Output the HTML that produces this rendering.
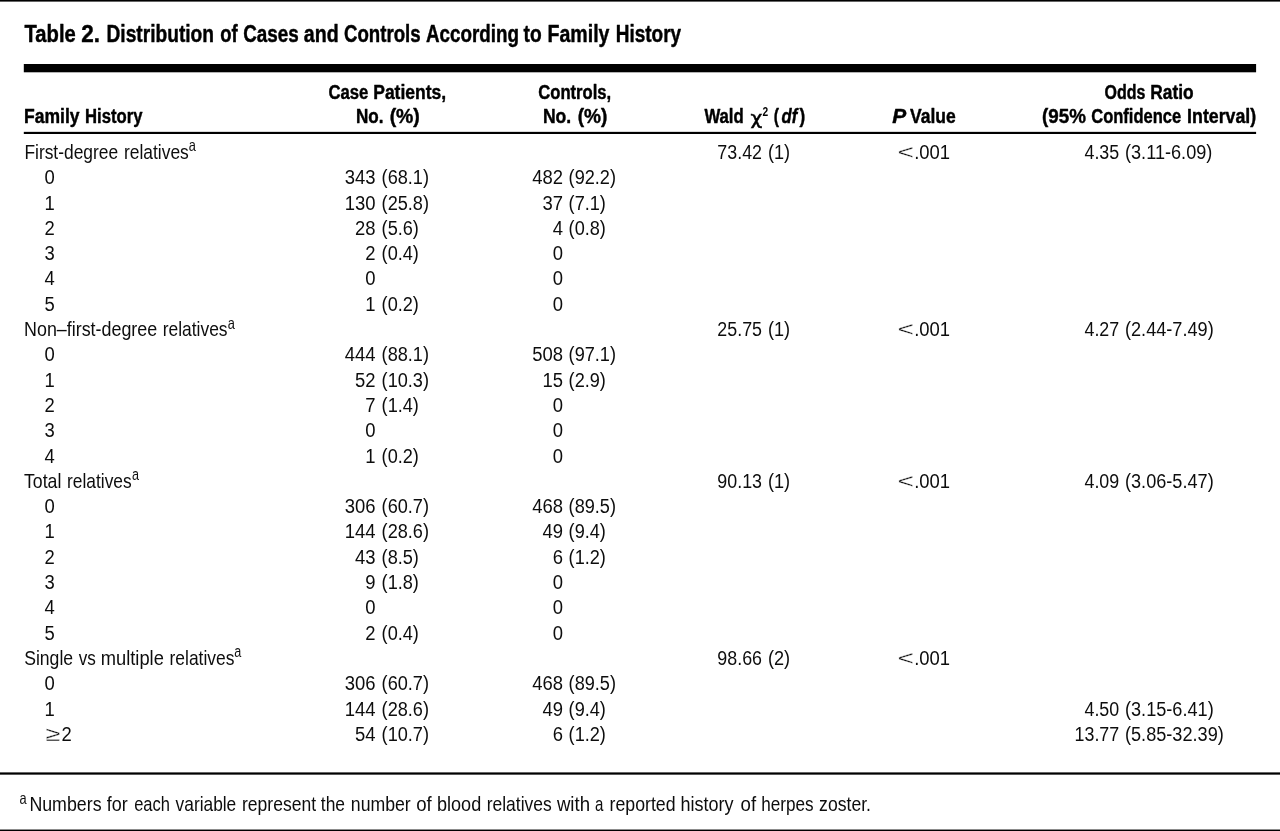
<!DOCTYPE html>
<html lang="en"><head><meta charset="utf-8"><title>Table 2. Distribution of Cases and Controls According to Family History</title>
<style>
html,body{margin:0;padding:0;background:#fff;}
body{width:1280px;height:831px;overflow:hidden;}
svg{display:block;}
text{font-family:"Liberation Sans",sans-serif;font-size:20.5px;fill:#0d0d0d;white-space:pre;}
text.b{font-weight:bold;fill:#000;stroke:#000;stroke-width:0.45px;stroke-linejoin:round;}
text.i{font-style:italic;}
text.n{stroke:none;}
text.t{stroke:#fff;stroke-width:0.3px;}
text.s{font-family:"Liberation Serif","DejaVu Serif",serif;}
text.d{font-family:"DejaVu Sans",sans-serif;fill:#000;stroke:#000;stroke-width:0.5px;}
</style></head><body>
<svg width="1280" height="831" viewBox="0 0 1280 831">
<rect x="0" y="0" width="1280" height="1.6" fill="#000"/>
<rect x="23.8" y="64" width="1232.3" height="8.3" fill="#000"/>
<rect x="23.8" y="131.85" width="1232.3" height="2.15" fill="#000"/>
<rect x="0" y="772.4" width="1280" height="2.25" fill="#000"/>
<rect x="0" y="829.55" width="1280" height="1.45" fill="#000"/>
<text class="b" style="font-size:24.5px" transform="translate(24.49 41.60) scale(0.8246 1)">Table</text>
<text class="b" style="font-size:24.5px" transform="translate(81.21 41.60) scale(0.9167 1)">2.</text>
<text class="b" style="font-size:24.5px" transform="translate(106.53 41.60) scale(0.7822 1)">Distribution</text>
<text class="b" style="font-size:24.5px" transform="translate(220.30 41.60) scale(0.7528 1)">of</text>
<text class="b" style="font-size:24.5px" transform="translate(243.23 41.60) scale(0.7687 1)">Cases</text>
<text class="b" style="font-size:24.5px" transform="translate(303.85 41.60) scale(0.8012 1)">and</text>
<text class="b" style="font-size:24.5px" transform="translate(344.04 41.60) scale(0.7605 1)">Controls</text>
<text class="b" style="font-size:24.5px" transform="translate(426.02 41.60) scale(0.7681 1)">According</text>
<text class="b" style="font-size:24.5px" transform="translate(523.60 41.60) scale(0.7818 1)">to</text>
<text class="b" style="font-size:24.5px" transform="translate(547.50 41.60) scale(0.7987 1)">Family</text>
<text class="b" style="font-size:24.5px" transform="translate(615.74 41.60) scale(0.7746 1)">History</text>
<text class="b" transform="translate(24.03 122.90) scale(0.8551 1)">Family</text>
<text class="b" transform="translate(84.98 122.90) scale(0.8144 1)">History</text>
<text class="b" transform="translate(328.49 99.00) scale(0.8126 1)">Case</text>
<text class="b" transform="translate(373.23 99.00) scale(0.8532 1)">Patients,</text>
<text class="b" transform="translate(355.96 122.90) scale(0.8328 1)">No.</text>
<text class="b" transform="translate(389.65 122.90) scale(0.9467 1)">(%)</text>
<text class="b" transform="translate(538.29 99.00) scale(0.8103 1)">Controls,</text>
<text class="b" transform="translate(542.93 122.90) scale(0.8557 1)">No.</text>
<text class="b" transform="translate(577.67 122.90) scale(0.9300 1)">(%)</text>
<text class="b" transform="translate(704.40 122.90) scale(0.8160 1)">Wald</text>
<text class="d" style="font-size:18.4px" transform="translate(750.45 124.00) scale(1.1077 1)">χ</text>
<text class="b n" style="font-size:12.5px" transform="translate(762.59 115.90) scale(0.8167 1)">2</text>
<text class="b" transform="translate(773.83 122.90) scale(0.7652 1)">(</text>
<text class="b i" transform="translate(781.50 122.90) scale(0.8098 1)">df</text>
<text class="b" transform="translate(799.60 122.90) scale(0.8348 1)">)</text>
<text class="b i" transform="translate(892.24 122.90) scale(1.0222 1)">P</text>
<text class="b" transform="translate(909.99 122.90) scale(0.8540 1)">Value</text>
<text class="b" transform="translate(1104.51 99.00) scale(0.7803 1)">Odds</text>
<text class="b" transform="translate(1150.34 99.00) scale(0.8447 1)">Ratio</text>
<text class="b" transform="translate(1041.98 122.90) scale(0.9168 1)">(95%</text>
<text class="b" transform="translate(1091.30 122.90) scale(0.8045 1)">Confidence</text>
<text class="b" transform="translate(1187.12 122.90) scale(0.8658 1)">Interval)</text>
<text transform="translate(24.42 158.95) scale(0.8481 1)">First-degree</text>
<text transform="translate(123.94 158.95) scale(0.8498 1)">relatives</text>
<text style="font-size:16.5px" transform="translate(188.82 151.45) scale(0.7765 1)">a</text>
<text transform="translate(24.07 336.05) scale(0.8727 1)">Non–first-degree</text>
<text transform="translate(162.69 336.05) scale(0.8505 1)">relatives</text>
<text style="font-size:16.5px" transform="translate(227.82 328.55) scale(0.7765 1)">a</text>
<text transform="translate(23.97 487.85) scale(0.8639 1)">Total</text>
<text transform="translate(67.04 487.85) scale(0.8471 1)">relatives</text>
<text style="font-size:16.5px" transform="translate(131.93 480.35) scale(0.7647 1)">a</text>
<text transform="translate(24.14 664.95) scale(0.8591 1)">Single</text>
<text transform="translate(78.75 664.95) scale(0.8354 1)">vs</text>
<text transform="translate(100.78 664.95) scale(0.8934 1)">multiple</text>
<text transform="translate(169.54 664.95) scale(0.8505 1)">relatives</text>
<text style="font-size:16.5px" transform="translate(234.33 657.45) scale(0.7647 1)">a</text>
<text transform="translate(44.40 184.25) scale(0.9000 1)">0</text>
<text transform="translate(44.40 209.55) scale(0.9000 1)">1</text>
<text transform="translate(44.40 234.85) scale(0.9000 1)">2</text>
<text transform="translate(44.40 260.15) scale(0.9000 1)">3</text>
<text transform="translate(44.40 285.45) scale(0.9000 1)">4</text>
<text transform="translate(44.40 310.75) scale(0.9000 1)">5</text>
<text transform="translate(44.40 361.35) scale(0.9000 1)">0</text>
<text transform="translate(44.40 386.65) scale(0.9000 1)">1</text>
<text transform="translate(44.40 411.95) scale(0.9000 1)">2</text>
<text transform="translate(44.40 437.25) scale(0.9000 1)">3</text>
<text transform="translate(44.40 462.55) scale(0.9000 1)">4</text>
<text transform="translate(44.40 513.15) scale(0.9000 1)">0</text>
<text transform="translate(44.40 538.45) scale(0.9000 1)">1</text>
<text transform="translate(44.40 563.75) scale(0.9000 1)">2</text>
<text transform="translate(44.40 589.05) scale(0.9000 1)">3</text>
<text transform="translate(44.40 614.35) scale(0.9000 1)">4</text>
<text transform="translate(44.40 639.65) scale(0.9000 1)">5</text>
<text transform="translate(44.40 690.25) scale(0.9000 1)">0</text>
<text transform="translate(44.40 715.55) scale(0.9000 1)">1</text>
<text class="t" transform="translate(45.34 740.85) scale(1.3171 1)">≥</text>
<text transform="translate(61.40 740.85) scale(0.9000 1)">2</text>
<text transform="translate(344.80 184.25) scale(0.9000 1)">343</text>
<text transform="translate(381.60 184.25) scale(0.8850 1)">(68.1)</text>
<text transform="translate(344.80 209.55) scale(0.9000 1)">130</text>
<text transform="translate(381.60 209.55) scale(0.8850 1)">(25.8)</text>
<text transform="translate(355.07 234.85) scale(0.9000 1)">28</text>
<text transform="translate(381.60 234.85) scale(0.8850 1)">(5.6)</text>
<text transform="translate(365.33 260.15) scale(0.9000 1)">2</text>
<text transform="translate(381.60 260.15) scale(0.8850 1)">(0.4)</text>
<text transform="translate(365.33 285.45) scale(0.9000 1)">0</text>
<text transform="translate(365.33 310.75) scale(0.9000 1)">1</text>
<text transform="translate(381.60 310.75) scale(0.8850 1)">(0.2)</text>
<text transform="translate(344.80 361.35) scale(0.9000 1)">444</text>
<text transform="translate(381.60 361.35) scale(0.8850 1)">(88.1)</text>
<text transform="translate(355.07 386.65) scale(0.9000 1)">52</text>
<text transform="translate(381.60 386.65) scale(0.8850 1)">(10.3)</text>
<text transform="translate(365.33 411.95) scale(0.9000 1)">7</text>
<text transform="translate(381.60 411.95) scale(0.8850 1)">(1.4)</text>
<text transform="translate(365.33 437.25) scale(0.9000 1)">0</text>
<text transform="translate(365.33 462.55) scale(0.9000 1)">1</text>
<text transform="translate(381.60 462.55) scale(0.8850 1)">(0.2)</text>
<text transform="translate(344.80 513.15) scale(0.9000 1)">306</text>
<text transform="translate(381.60 513.15) scale(0.8850 1)">(60.7)</text>
<text transform="translate(344.80 538.45) scale(0.9000 1)">144</text>
<text transform="translate(381.60 538.45) scale(0.8850 1)">(28.6)</text>
<text transform="translate(355.07 563.75) scale(0.9000 1)">43</text>
<text transform="translate(381.60 563.75) scale(0.8850 1)">(8.5)</text>
<text transform="translate(365.33 589.05) scale(0.9000 1)">9</text>
<text transform="translate(381.60 589.05) scale(0.8850 1)">(1.8)</text>
<text transform="translate(365.33 614.35) scale(0.9000 1)">0</text>
<text transform="translate(365.33 639.65) scale(0.9000 1)">2</text>
<text transform="translate(381.60 639.65) scale(0.8850 1)">(0.4)</text>
<text transform="translate(344.80 690.25) scale(0.9000 1)">306</text>
<text transform="translate(381.60 690.25) scale(0.8850 1)">(60.7)</text>
<text transform="translate(344.80 715.55) scale(0.9000 1)">144</text>
<text transform="translate(381.60 715.55) scale(0.8850 1)">(28.6)</text>
<text transform="translate(355.07 740.85) scale(0.9000 1)">54</text>
<text transform="translate(381.60 740.85) scale(0.8850 1)">(10.7)</text>
<text transform="translate(532.20 184.25) scale(0.9000 1)">482</text>
<text transform="translate(568.60 184.25) scale(0.8850 1)">(92.2)</text>
<text transform="translate(542.47 209.55) scale(0.9000 1)">37</text>
<text transform="translate(568.60 209.55) scale(0.8850 1)">(7.1)</text>
<text transform="translate(552.73 234.85) scale(0.9000 1)">4</text>
<text transform="translate(568.60 234.85) scale(0.8850 1)">(0.8)</text>
<text transform="translate(552.73 260.15) scale(0.9000 1)">0</text>
<text transform="translate(552.73 285.45) scale(0.9000 1)">0</text>
<text transform="translate(552.73 310.75) scale(0.9000 1)">0</text>
<text transform="translate(532.20 361.35) scale(0.9000 1)">508</text>
<text transform="translate(568.60 361.35) scale(0.8850 1)">(97.1)</text>
<text transform="translate(542.47 386.65) scale(0.9000 1)">15</text>
<text transform="translate(568.60 386.65) scale(0.8850 1)">(2.9)</text>
<text transform="translate(552.73 411.95) scale(0.9000 1)">0</text>
<text transform="translate(552.73 437.25) scale(0.9000 1)">0</text>
<text transform="translate(552.73 462.55) scale(0.9000 1)">0</text>
<text transform="translate(532.20 513.15) scale(0.9000 1)">468</text>
<text transform="translate(568.60 513.15) scale(0.8850 1)">(89.5)</text>
<text transform="translate(542.47 538.45) scale(0.9000 1)">49</text>
<text transform="translate(568.60 538.45) scale(0.8850 1)">(9.4)</text>
<text transform="translate(552.73 563.75) scale(0.9000 1)">6</text>
<text transform="translate(568.60 563.75) scale(0.8850 1)">(1.2)</text>
<text transform="translate(552.73 589.05) scale(0.9000 1)">0</text>
<text transform="translate(552.73 614.35) scale(0.9000 1)">0</text>
<text transform="translate(552.73 639.65) scale(0.9000 1)">0</text>
<text transform="translate(532.20 690.25) scale(0.9000 1)">468</text>
<text transform="translate(568.60 690.25) scale(0.8850 1)">(89.5)</text>
<text transform="translate(542.47 715.55) scale(0.9000 1)">49</text>
<text transform="translate(568.60 715.55) scale(0.8850 1)">(9.4)</text>
<text transform="translate(552.73 740.85) scale(0.9000 1)">6</text>
<text transform="translate(568.60 740.85) scale(0.8850 1)">(1.2)</text>
<text transform="translate(717.36 158.95) scale(0.8700 1)">73.42</text>
<text transform="translate(768.00 158.95) scale(0.8850 1)">(1)</text>
<text transform="translate(717.36 336.05) scale(0.8700 1)">25.75</text>
<text transform="translate(768.00 336.05) scale(0.8850 1)">(1)</text>
<text transform="translate(717.36 487.85) scale(0.8700 1)">90.13</text>
<text transform="translate(768.00 487.85) scale(0.8850 1)">(1)</text>
<text transform="translate(717.36 664.95) scale(0.8700 1)">98.66</text>
<text transform="translate(768.00 664.95) scale(0.8850 1)">(2)</text>
<text class="t" transform="translate(897.62 158.95) scale(1.3750 1)">&lt;</text>
<text transform="translate(914.20 158.95) scale(0.9000 1)">.001</text>
<text class="t" transform="translate(897.62 336.05) scale(1.3750 1)">&lt;</text>
<text transform="translate(914.20 336.05) scale(0.9000 1)">.001</text>
<text class="t" transform="translate(897.62 487.85) scale(1.3750 1)">&lt;</text>
<text transform="translate(914.20 487.85) scale(0.9000 1)">.001</text>
<text class="t" transform="translate(897.62 664.95) scale(1.3750 1)">&lt;</text>
<text transform="translate(914.20 664.95) scale(0.9000 1)">.001</text>
<text transform="translate(1084.48 158.95) scale(0.8700 1)">4.35</text>
<text transform="translate(1125.00 158.95) scale(0.8850 1)">(3.11-6.09)</text>
<text transform="translate(1084.48 336.05) scale(0.8700 1)">4.27</text>
<text transform="translate(1125.00 336.05) scale(0.8850 1)">(2.44-7.49)</text>
<text transform="translate(1084.48 487.85) scale(0.8700 1)">4.09</text>
<text transform="translate(1125.00 487.85) scale(0.8850 1)">(3.06-5.47)</text>
<text transform="translate(1084.48 715.55) scale(0.8700 1)">4.50</text>
<text transform="translate(1125.00 715.55) scale(0.8850 1)">(3.15-6.41)</text>
<text transform="translate(1074.56 740.85) scale(0.8700 1)">13.77</text>
<text transform="translate(1125.00 740.85) scale(0.8850 1)">(5.85-32.39)</text>
<text style="font-size:16.5px" transform="translate(19.42 804.20) scale(0.7765 1)">a</text>
<text transform="translate(29.38 810.90) scale(0.8681 1)">Numbers</text>
<text transform="translate(106.68 810.90) scale(0.8766 1)">for</text>
<text transform="translate(134.15 810.90) scale(0.8059 1)">each</text>
<text transform="translate(175.60 810.90) scale(0.8451 1)">variable</text>
<text transform="translate(242.03 810.90) scale(0.8551 1)">represent</text>
<text transform="translate(320.79 810.90) scale(0.8509 1)">the</text>
<text transform="translate(350.82 810.90) scale(0.8632 1)">number</text>
<text transform="translate(416.22 810.90) scale(0.9091 1)">of</text>
<text transform="translate(437.00 810.90) scale(0.8821 1)">blood</text>
<text transform="translate(486.69 810.90) scale(0.8519 1)">relatives</text>
<text transform="translate(556.90 810.90) scale(0.9106 1)">with</text>
<text transform="translate(595.05 810.90) scale(0.7349 1)">a</text>
<text transform="translate(609.52 810.90) scale(0.8651 1)">reported</text>
<text transform="translate(680.58 810.90) scale(0.8783 1)">history</text>
<text transform="translate(740.57 810.90) scale(0.9091 1)">of</text>
<text transform="translate(761.25 810.90) scale(0.8364 1)">herpes</text>
<text transform="translate(819.11 810.90) scale(0.8597 1)">zoster.</text>
</svg>
</body></html>
